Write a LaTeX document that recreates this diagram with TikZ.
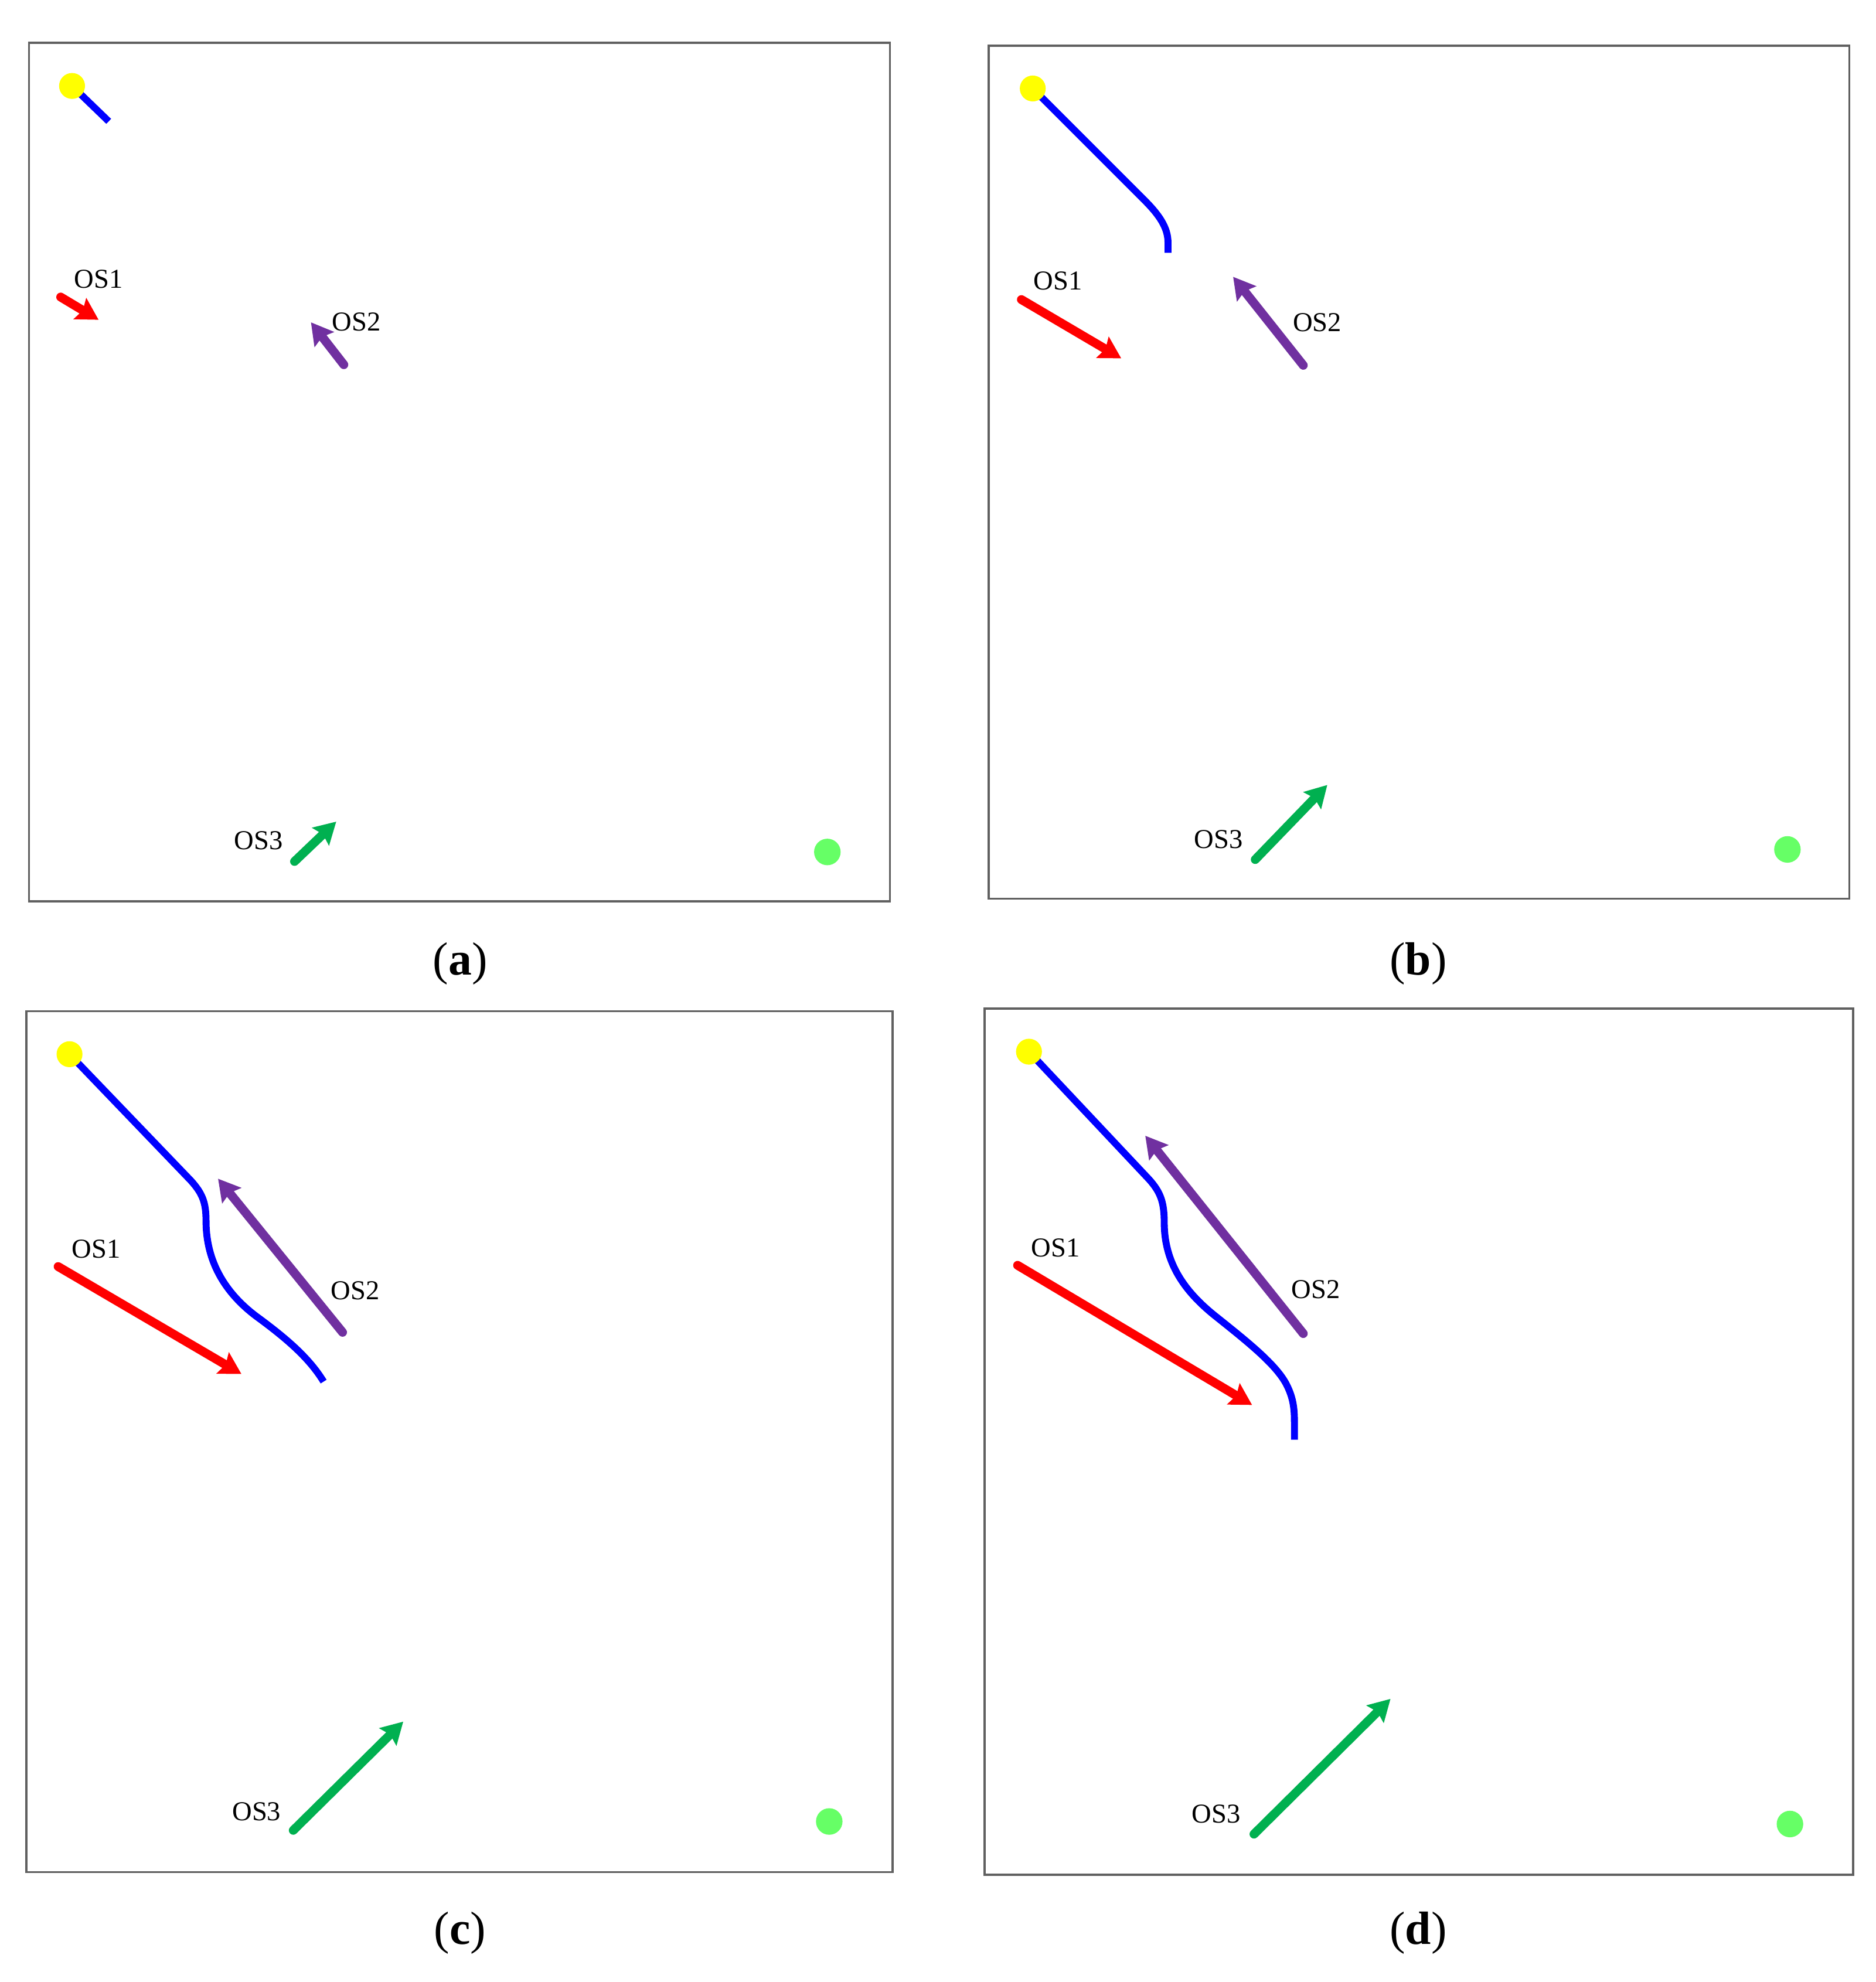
\documentclass[tikz,border=0pt]{standalone}
\usepackage{fontspec}
\setmainfont{Liberation Serif}
\usetikzlibrary{arrows.meta}
\definecolor{framegray}{HTML}{606060}
\definecolor{trajblue}{HTML}{0000FF}
\definecolor{osred}{HTML}{FF0000}
\definecolor{ospurple}{HTML}{7030A0}
\definecolor{osgreen}{HTML}{00B050}
\definecolor{goalgreen}{HTML}{66FF66}
\definecolor{startyellow}{HTML}{FFFF00}
\tikzset{
  panelframe/.style={draw=framegray, line width=0.035cm},
  traj/.style={draw=trajblue, line width=0.11cm, line cap=butt},
  osarrow/.style={line width=0.14cm, line cap=round, -{Stealth[length=0.34cm, width=0.38cm, inset=0.05cm]}},
  startdot/.style={circle, fill=startyellow, inner sep=0pt, minimum size=0.41cm},
  goaldot/.style={circle, fill=goalgreen, inner sep=0pt, minimum size=0.42cm},
  oslabel/.style={inner sep=0pt, font=\fontsize{12.3}{14}\selectfont},
  caption/.style={inner sep=0pt, font=\fontsize{21}{24}\selectfont}
}
\begin{document}
\begin{tikzpicture}[x=0.02cm, y=-0.02cm]
\useasboundingbox (0,0) rectangle (1484,1568);
\fill[white] (0,0) rectangle (1484,1568);

% ---------------- panel (a)
\draw[panelframe] (23,34) rectangle (704,713);
\draw[traj] (57,68) -- (86,96);
\node[startdot] (ya) at (57,68) {};
\node[goaldot] (ga) at (654.5,674) {};
\coordinate (r1a) at (48,235); \coordinate (r2a) at (78,253);
\draw[osarrow, osred] (r1a) -- (r2a);
\node[oslabel] (os1a) at (78,221) {OS1};
\coordinate (p1a) at (272,288.5); \coordinate (p2a) at (246,255);
\draw[osarrow, ospurple] (p1a) -- (p2a);
\node[oslabel] (os2a) at (282,254.5) {OS2};
\coordinate (g1a) at (233,681.5); \coordinate (g2a) at (266,650);
\draw[osarrow, osgreen] (g1a) -- (g2a);
\node[oslabel] (os3a) at (204.5,665) {OS3};
\node[caption] (capa) at (364,762.5) {(\textbf{a})};

% ---------------- panel (b)
\draw[panelframe] (782,36) rectangle (1463,711);
\draw[traj] (817,70) -- (905,158) .. controls (917,170) and (924,180) .. (924,192) -- (924,200);
\node[startdot] (yb) at (817,70) {};
\node[goaldot] (gb) at (1414,672) {};
\coordinate (r1b) at (808,237); \coordinate (r2b) at (887,283.5);
\draw[osarrow, osred] (r1b) -- (r2b);
\node[oslabel] (os1b) at (837,222) {OS1};
\coordinate (p1b) at (1031,289); \coordinate (p2b) at (975.5,219);
\draw[osarrow, ospurple] (p1b) -- (p2b);
\node[oslabel] (os2b) at (1042,255) {OS2};
\coordinate (g1b) at (993,680); \coordinate (g2b) at (1050,621);
\draw[osarrow, osgreen] (g1b) -- (g2b);
\node[oslabel] (os3b) at (964,664) {OS3};
\node[caption] (capb) at (1122,762.5) {(\textbf{b})};

% ---------------- panel (c)
\draw[panelframe] (21,800) rectangle (706,1481);
\draw[traj] (55,834) -- (151,934) .. controls (160,944) and (163,951) .. (163,966)
  .. controls (163,1000) and (180,1025) .. (205,1043)
  .. controls (228,1060) and (245,1075) .. (256,1093);
\node[startdot] (yc) at (55,834) {};
\node[goaldot] (gc) at (656,1441) {};
\coordinate (r1c) at (46,1002); \coordinate (r2c) at (191,1087);
\draw[osarrow, osred] (r1c) -- (r2c);
\node[oslabel] (os1c) at (76,988) {OS1};
\coordinate (p1c) at (271,1054); \coordinate (p2c) at (172.5,932.5);
\draw[osarrow, ospurple] (p1c) -- (p2c);
\node[oslabel] (os2c) at (281,1021) {OS2};
\coordinate (g1c) at (232,1448); \coordinate (g2c) at (319,1362);
\draw[osarrow, osgreen] (g1c) -- (g2c);
\node[oslabel] (os3c) at (203,1433) {OS3};
\node[caption] (capc) at (364,1529) {(\textbf{c})};

% ---------------- panel (d)
\draw[panelframe] (779,798) rectangle (1466,1483);
\draw[traj] (814,832) -- (909,933) .. controls (918,943) and (921,951) .. (921,967)
  .. controls (921,1000) and (938,1022) .. (960,1040)
  .. controls (985,1060) and (1008,1078) .. (1017,1094)
  .. controls (1023,1105) and (1024,1114) .. (1024,1125) -- (1024,1139);
\node[startdot] (yd) at (814,832) {};
\node[goaldot] (gd) at (1416,1443) {};
\coordinate (r1d) at (805,1001); \coordinate (r2d) at (990.5,1111.5);
\draw[osarrow, osred] (r1d) -- (r2d);
\node[oslabel] (os1d) at (835,987) {OS1};
\coordinate (p1d) at (1031,1055); \coordinate (p2d) at (906,898.5);
\draw[osarrow, ospurple] (p1d) -- (p2d);
\node[oslabel] (os2d) at (1041,1020) {OS2};
\coordinate (g1d) at (992,1451); \coordinate (g2d) at (1100,1344);
\draw[osarrow, osgreen] (g1d) -- (g2d);
\node[oslabel] (os3d) at (962,1435) {OS3};
\node[caption] (capd) at (1122,1529) {(\textbf{d})};
\end{tikzpicture}
\end{document}
